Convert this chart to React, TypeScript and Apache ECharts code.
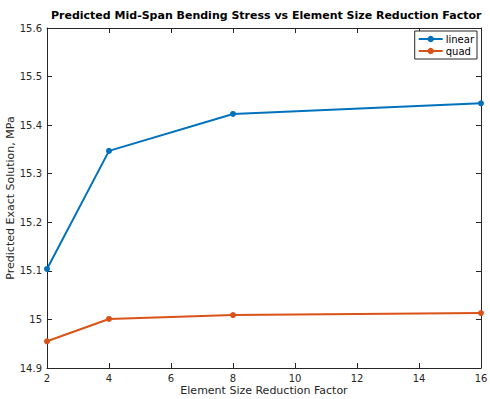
import React, { useEffect, useRef } from "react";
import * as echarts from "echarts";

const factors = [2, 4, 8, 16];
const linearValues = [15.104, 15.347, 15.423, 15.445];
const quadValues = [14.955, 15.001, 15.009, 15.013];
const xTicks = [2, 4, 6, 8, 10, 12, 14, 16];
const yMin = 14.9;
const yMax = 15.6;

export default function App() {
  const ref = useRef<HTMLDivElement>(null);
  useEffect(() => {
    const chart = echarts.init(ref.current!, null, { renderer: "svg" });
    const font = "DejaVu Sans";
    const axisColor = "#262626";
    const baseX = {
      type: "value" as const,
      min: 2,
      max: 16,
      interval: 2,
      splitLine: { show: false },
      axisLine: { show: true, onZero: false, lineStyle: { color: axisColor, width: 1 } },
      axisTick: { show: true, inside: true, length: 5, lineStyle: { color: axisColor } },
    };
    const baseY = {
      type: "value" as const,
      min: yMin,
      max: yMax,
      interval: 0.1,
      splitLine: { show: false },
      axisLine: { show: true, onZero: false, lineStyle: { color: axisColor, width: 1 } },
      axisTick: { show: true, inside: true, length: 5, lineStyle: { color: axisColor } },
    };
    chart.setOption({
      animation: false,
      backgroundColor: "#fff",
      title: {
        text: "Predicted Mid-Span Bending Stress vs Element Size Reduction Factor",
        left: 46,
        top: 5,
        textStyle: { fontFamily: font, fontSize: 11, fontWeight: "bold", color: "#000" },
      },
      grid: { left: 47, right: 9, top: 28, bottom: 31, outerBoundsMode: "none", containLabel: false },
      legend: {
        right: 13,
        top: 31,
        orient: "vertical",
        backgroundColor: "#fff",
        borderColor: "#262626",
        borderWidth: 1,
        borderRadius: 0,
        padding: [3, 3, 3, 3],
        itemGap: 2,
        itemWidth: 24,
        itemHeight: 8,
        textStyle: { fontFamily: font, fontSize: 10, color: "#000", padding: [0, 0, 0, -2] },
        data: ["linear", "quad"],
      },
      xAxis: [
        {
          ...baseX,
          position: "bottom",
          name: "Element Size Reduction Factor",
          nameLocation: "middle",
          nameGap: 17,
          nameMoveOverlap: false,
          nameTextStyle: { fontFamily: font, fontSize: 11, color: "#262626" },
          axisLabel: { fontFamily: font, fontSize: 10, color: "#262626", margin: 5, formatter: (v: number) => (xTicks.includes(v) ? String(v) : "") },
        },
        { ...baseX, position: "top", axisLabel: { show: false } },
      ],
      yAxis: [
        {
          ...baseY,
          position: "left",
          name: "Predicted Exact Solution, MPa",
          nameLocation: "middle",
          nameGap: 31,
          nameMoveOverlap: false,
          nameTextStyle: { fontFamily: font, fontSize: 11, color: "#262626" },
          axisLabel: {
            fontFamily: font,
            fontSize: 10,
            color: "#262626",
            margin: 5,
            formatter: (v: number) => String(parseFloat(v.toFixed(1))),
          },
        },
        { ...baseY, position: "right", axisLabel: { show: false } },
      ],
      series: [
        {
          name: "linear",
          type: "line",
          data: factors.map((f, i) => [f, linearValues[i]]),
          color: "#0072BD",
          lineStyle: { width: 2 },
          symbol: "circle",
          symbolSize: 6,
        },
        {
          name: "quad",
          type: "line",
          data: factors.map((f, i) => [f, quadValues[i]]),
          color: "#D95319",
          lineStyle: { width: 2 },
          symbol: "circle",
          symbolSize: 6,
        },
      ],
    });
    return () => chart.dispose();
  }, []);
  return <div ref={ref} style={{ width: 490, height: 399, position: "fixed", left: 0, top: 0 }} />;
}
